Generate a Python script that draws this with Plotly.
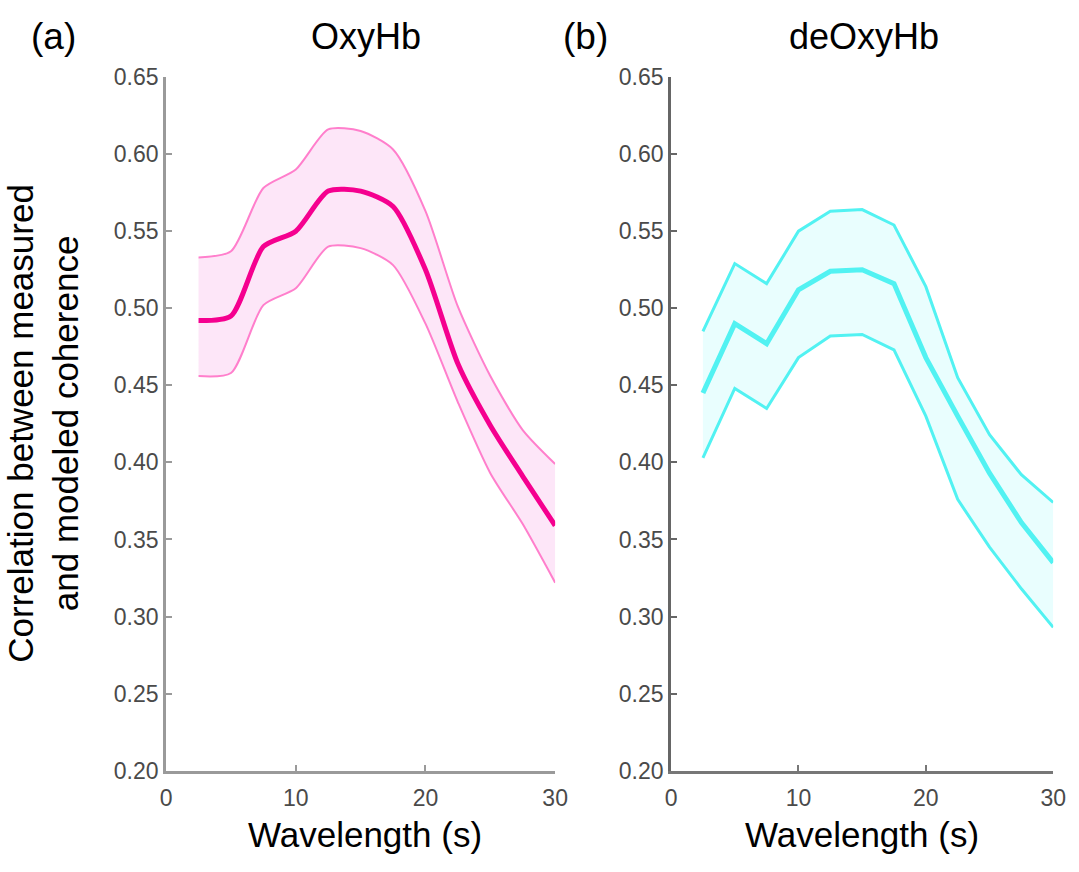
import plotly.graph_objects as go

W, H = 1079, 872

wavelength = [2.5, 5, 7.5, 10, 12.5, 15, 17.5, 20, 22.5, 25, 27.5, 30]

oxy_mean = [0.492, 0.495, 0.540, 0.550, 0.576, 0.576, 0.566, 0.525, 0.464, 0.424, 0.391, 0.359]
oxy_upper = [0.533, 0.537, 0.578, 0.590, 0.616, 0.615, 0.603, 0.563, 0.501, 0.456, 0.421, 0.399]
oxy_lower = [0.456, 0.458, 0.502, 0.513, 0.540, 0.539, 0.528, 0.490, 0.439, 0.393, 0.360, 0.322]

deoxy_mean = [0.445, 0.490, 0.477, 0.512, 0.524, 0.525, 0.516, 0.468, 0.430, 0.393, 0.361, 0.335]
deoxy_upper = [0.485, 0.529, 0.516, 0.550, 0.563, 0.564, 0.554, 0.514, 0.455, 0.418, 0.392, 0.374]
deoxy_lower = [0.403, 0.448, 0.435, 0.468, 0.482, 0.483, 0.473, 0.430, 0.376, 0.345, 0.318, 0.293]

y_ticks = [0.20, 0.25, 0.30, 0.35, 0.40, 0.45, 0.50, 0.55, 0.60, 0.65]
x_ticks = [0, 10, 20, 30]

panel_titles = ["OxyHb", "deOxyHb"]
panel_letters = ["(a)", "(b)"]
x_title = "Wavelength (s)"
y_title = "Correlation between measured<br>and modeled coherence"

FONT = "Liberation Sans, Arial, Helvetica, sans-serif"

fig = go.Figure()

def add_band(xa, ya, x, lo, up, mean, band_col, fill_col, mean_col, shape, bw, mw):
    fig.add_trace(go.Scatter(x=x, y=lo, mode="lines", xaxis=xa, yaxis=ya,
                             line=dict(color=band_col, width=bw, shape=shape, smoothing=0.7),
                             showlegend=False, hoverinfo="skip"))
    fig.add_trace(go.Scatter(x=x, y=up, mode="lines", xaxis=xa, yaxis=ya, fill="tonexty",
                             fillcolor=fill_col,
                             line=dict(color=band_col, width=bw, shape=shape, smoothing=0.7),
                             showlegend=False, hoverinfo="skip"))
    fig.add_trace(go.Scatter(x=x, y=mean, mode="lines", xaxis=xa, yaxis=ya,
                             line=dict(color=mean_col, width=mw, shape=shape, smoothing=0.7),
                             showlegend=False))

add_band("x", "y", wavelength, oxy_lower, oxy_upper, oxy_mean,
         "#ff7fcc", "rgba(250,200,240,0.45)", "#f5008f", "spline", 2, 5)
add_band("x2", "y2", wavelength, deoxy_lower, deoxy_upper, deoxy_mean,
         "#52f2f2", "rgba(200,252,252,0.4)", "#52f2f2", "linear", 3, 5)

ydom = [1 - 781 / H, 1 - 66 / H]
xdom1 = [163 / W, 559 / W]
xdom2 = [677 / W, 1066 / W]

def xaxis(dom, col, anchor):
    return dict(domain=dom, range=[0, 30], tickvals=x_ticks, showline=True, linecolor=col,
                linewidth=3, ticks="inside", ticklen=6, tickwidth=2, tickcolor=col,
                showgrid=False, zeroline=False, anchor=anchor, ticklabelstandoff=5,
                tickfont=dict(family=FONT, size=23, color="#4a4a4a"))

def yaxis(col, anchor):
    return dict(domain=ydom, range=[0.2, 0.65], tickvals=y_ticks, tickformat=".2f",
                showline=True, linecolor=col, linewidth=3, ticks="inside", ticklen=6,
                tickwidth=2, tickcolor=col, showgrid=False, zeroline=False, anchor=anchor,
                tickfont=dict(family=FONT, size=23, color="#4a4a4a"))

fig.update_layout(
    width=W, height=H,
    margin=dict(l=0, r=0, t=0, b=0),
    paper_bgcolor="white", plot_bgcolor="white",
    xaxis=xaxis(xdom1, "#9a9a9a", "y"),
    yaxis=yaxis("#9a9a9a", "x"),
    xaxis2=xaxis(xdom2, "#777777", "y2"),
    yaxis2=yaxis("#666666", "x2"),
    showlegend=False,
)

def px_ann(text, x, y, size, angle=0):
    fig.add_annotation(text=text, x=x / W, y=1 - y / H, xref="paper", yref="paper",
                       showarrow=False, xanchor="center", yanchor="middle",
                       textangle=angle, font=dict(family=FONT, size=size, color="black"))

px_ann(panel_letters[0], 48, 24, 37)
px_ann(panel_titles[0], 366, 24, 36)
px_ann(panel_letters[1], 590, 24, 37)
px_ann(panel_titles[1], 873, 24, 36)
px_ann(x_title, 365, 847, 35)
px_ann(x_title, 871, 847, 35)
px_ann(y_title, 38, 423, 35, angle=-90)

fig.write_html("out.html")
